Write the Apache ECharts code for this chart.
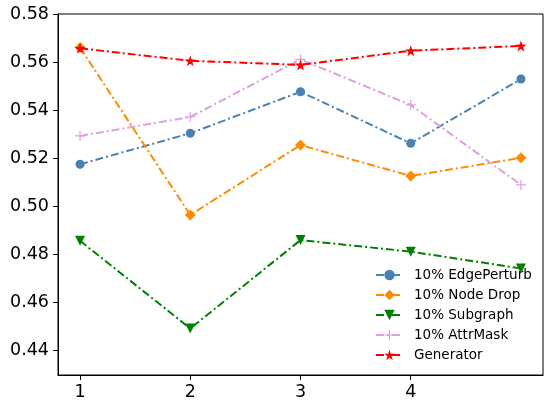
<!DOCTYPE html>
<html>
<head>
<meta charset="utf-8">
<script src="https://cdn.jsdelivr.net/npm/echarts@6/dist/echarts.min.js"></script>
<style>html,body{margin:0;padding:0;background:#fff}#c{width:550px;height:404px}</style>
</head>
<body>
<div id="c"></div>
<script>
const xs = [1, 2, 3, 4, 5];
const xTicks = [1, 2, 3, 4];
const yTicks = [0.44, 0.46, 0.48, 0.50, 0.52, 0.54, 0.56, 0.58];
const names = ['10% EdgePerturb', '10% Node Drop', '10% Subgraph', '10% AttrMask', 'Generator'];
const edgePerturb = [0.5174, 0.5303, 0.5476, 0.5261, 0.5529];
const nodeDrop = [0.5660, 0.4963, 0.5254, 0.5125, 0.5201];
const subgraph = [0.4855, 0.4490, 0.4858, 0.4810, 0.4740];
const attrMask = [0.5292, 0.5371, 0.5611, 0.5421, 0.5088];
const generator = [0.5657, 0.5605, 0.5588, 0.5647, 0.5667];

const starPath = 'path://M0,-10 L2.35,-3.24 L9.51,-3.09 L3.8,1.24 L5.88,8.09 L0,4 L-5.88,8.09 L-3.8,1.24 L-9.51,-3.09 L-2.35,-3.24 Z';
const plusPath = 'path://M-1.2,-10 L1.2,-10 L1.2,-1.2 L10,-1.2 L10,1.2 L1.2,1.2 L1.2,10 L-1.2,10 L-1.2,1.2 L-10,1.2 L-10,-1.2 L-1.2,-1.2 Z';

const styles = [
  {color: '#4682b4', symbol: 'circle', size: 9, rot: 0},
  {color: '#ff8c00', symbol: 'diamond', size: 11, rot: 0},
  {color: '#008000', symbol: 'triangle', size: 10, rot: 180},
  {color: '#dda0dd', symbol: plusPath, size: 10, rot: 0},
  {color: '#ff0000', symbol: starPath, size: 11, rot: 0}
];
const datasets = [edgePerturb, nodeDrop, subgraph, attrMask, generator];

const series = datasets.map((vals, i) => ({
  name: names[i],
  type: 'line',
  data: xs.map((x, j) => [x, vals[j]]),
  symbol: styles[i].symbol,
  symbolSize: styles[i].size,
  symbolRotate: styles[i].rot,
  showAllSymbol: true,
  color: styles[i].color,
  itemStyle: {color: styles[i].color, opacity: 1},
  lineStyle: {color: styles[i].color, width: 2, type: [8, 3, 2, 3]},
  emphasis: {disabled: true},
  animation: false,
  z: 2 + i
}));

const chart = echarts.init(document.getElementById('c'), null, {renderer: 'canvas'});
chart.setOption({
  backgroundColor: '#fff',
  animation: false,
  textStyle: {fontFamily: 'DejaVu Sans'},
  grid: {left: 58, right: 7, top: 14, bottom: 29, show: true, borderColor: '#000', borderWidth: 1, backgroundColor: 'transparent'},
  xAxis: {
    type: 'value', min: 0.8, max: 5.2,
    axisLine: {show: true, onZero: false, lineStyle: {color: '#000', width: 1}},
    axisTick: {show: true, inside: false, length: 5, lineStyle: {color: '#000'}, customValues: xTicks},
    axisLabel: {color: '#000', fontSize: 17.5, margin: 8, fontFamily: 'DejaVu Sans', customValues: xTicks, formatter: v => String(v)},
    splitLine: {show: false}
  },
  yAxis: {
    type: 'value', min: 0.4296, max: 0.58,
    axisLine: {show: true, onZero: false, lineStyle: {color: '#000', width: 1}},
    axisTick: {show: true, inside: false, length: 5, lineStyle: {color: '#000'}, customValues: yTicks},
    axisLabel: {color: '#000', fontSize: 17.5, margin: 9, fontFamily: 'DejaVu Sans', customValues: yTicks, formatter: v => v.toFixed(2)},
    splitLine: {show: false}
  },
  legend: {
    orient: 'vertical',
    left: 375, top: 268,
    data: names,
    itemWidth: 27, itemHeight: 13, itemGap: 6,
    padding: 0,
    backgroundColor: 'transparent',
    borderWidth: 0,
    textStyle: {fontSize: 13.5, color: '#000', fontFamily: 'DejaVu Sans', padding: [0, 0, 0, 6]},
    selectedMode: false
  },
  series: series
});
</script>
</body>
</html>
